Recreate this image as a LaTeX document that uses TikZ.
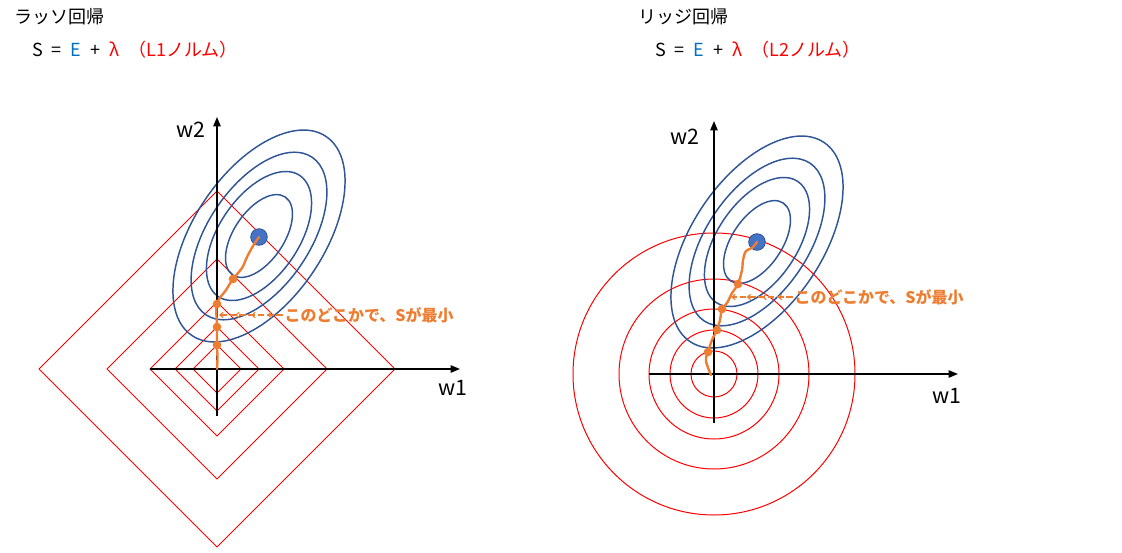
\documentclass[tikz,border=0pt]{standalone}
\usepackage{fontspec}
\setmainfont{Noto Sans CJK JP}
\usetikzlibrary{arrows.meta,decorations.markings}

\definecolor{contour}{HTML}{2F5597}
\definecolor{optfill}{HTML}{4472C4}
\definecolor{optedge}{HTML}{2F528F}
\definecolor{trailorange}{HTML}{ED7D31}
\definecolor{eblue}{HTML}{0070C0}

\newcommand{\gap}{\hspace{0.5em}}

\tikzset{
  axis/.style={draw=black, line width=1.1pt, -{Triangle[length=7pt,width=5.5pt]}},
  penalty/.style={draw=red, line width=0.75pt},
  level/.style={draw=contour, line width=1.1pt},
  optimum/.style={circle, fill=optfill, draw=optedge, line width=0.6pt, minimum size=12.5pt, inner sep=0pt},
  hit/.style={circle, fill=trailorange, minimum size=6.5pt, inner sep=0pt},
  trail/.style={draw=trailorange, line width=1.8pt, line cap=round},
  hint/.style={draw=trailorange, line width=0.8pt, dash pattern=on 5pt off 2pt,
    -{Straight Barb[length=2.5pt,width=4pt]},
    postaction={decorate},
    decoration={markings,
      mark=at position 0.25 with {\arrow{Straight Barb[length=2.5pt,width=4pt]}},
      mark=at position 0.5 with {\arrow{Straight Barb[length=2.5pt,width=4pt]}},
      mark=at position 0.75 with {\arrow{Straight Barb[length=2.5pt,width=4pt]}}}},
  note/.style={text=trailorange, font=\bfseries\fontsize{12}{13}\selectfont, anchor=west, inner sep=1pt},
  title/.style={font=\fontsize{13.5}{15}\selectfont, anchor=west, inner sep=0pt},
  formula/.style={font=\fontsize{13.5}{15}\selectfont, anchor=west, inner sep=0pt},
  axlabel/.style={font=\fontsize{16}{17}\selectfont, inner sep=0pt},
}

\begin{document}
\begin{tikzpicture}[x=0.75pt,y=0.75pt,yscale=-1,xscale=1]
\useasboundingbox (0,0) rectangle (1122,553);

% Text Node
\node[title] (lassoT) at (14,17) {ラッソ回帰};
% Text Node
\node[formula] (lassoS) at (32,50) {S\gap=\gap{\color{eblue}E}\gap+\gap{\color{red}λ\gap（L1ノルム）}};
% Text Node
\node[title] (ridgeT) at (638,17) {リッジ回帰};
% Text Node
\node[formula] (ridgeS) at (655,50) {S\gap=\gap{\color{eblue}E}\gap+\gap{\color{red}λ\gap（L2ノルム）}};

%%% lasso (left)
% L1 diamonds
\foreach \r in {24,42,67,110,178}
  \draw[penalty] (217-\r,369) -- (217,369-\r) -- (217+\r,369) -- (217,369+\r) -- cycle;
% error contours
\foreach \a/\b in {120/65,95/51,73/40,47/25}
  \draw[level, rotate around={-56:(259,236)}] (259,236) ellipse ({\a} and {\b});
% axes
\coordinate (oL) at (217,369);
\draw[axis] (150,369) -- (460,369);
\draw[axis] (217,416) -- (217,117);
\node[axlabel] (w1L) at (453,388) {w1};
\node[axlabel] (w2L) at (191,130) {w2};
% optimum and path
\node[optimum] (optL) at (259,237) {};
\coordinate (hL1) at (233,279);
\coordinate (hL2) at (217,304);
\coordinate (hL3) at (217,327);
\coordinate (hL4) at (217,345);
\draw[trail] plot[smooth, tension=0.6] coordinates {(optL.center) (253,246) (247,257) (242,268) (hL1) (226,290) (hL2) (hL3) (hL4) (217.5,358) (217,369)};
\foreach \p in {hL1,hL2,hL3,hL4}
  \node[hit] at (\p) {};
% Text Node
\node[note] (noteL) at (283,315) {このどこかで、Sが最小};
\coordinate (tgtL) at (219,315);
\draw[hint] (noteL.west) -- (tgtL);

%%% ridge (right)
% L2 circles
\foreach \r in {23,44,65,95,141}
  \draw[penalty] (714,374) circle (\r);
% error contours
\foreach \a/\b in {120/65,95/51,73/40,47/25}
  \draw[level, rotate around={-56:(757,242)}] (757,242) ellipse ({\a} and {\b});
% axes
\coordinate (oR) at (714,374);
\draw[axis] (649,374) -- (958,374);
\draw[axis] (714,423) -- (714,121);
\node[axlabel] (w1R) at (947,396) {w1};
\node[axlabel] (w2R) at (685,137) {w2};
% optimum and path
\node[optimum] (optR) at (757,242) {};
\coordinate (hR1) at (738,284);
\coordinate (hR2) at (722,309);
\coordinate (hR3) at (717,330);
\coordinate (hR4) at (708,352);
\draw[trail] plot[smooth, tension=0.6] coordinates {(optR.center) (752,248) (746,251) (743,260) (742,270) (hR1) (732,293) (727,303) (hR2) (720,320) (hR3) (712,340) (hR4) (706,361) (711,375)};
\foreach \p in {hR1,hR2,hR3,hR4}
  \node[hit] at (\p) {};
% Text Node
\node[note] (noteR) at (793,297) {このどこかで、Sが最小};
\coordinate (tgtR) at (731,297);
\draw[hint] (noteR.west) -- (tgtR);
\end{tikzpicture}
\end{document}
